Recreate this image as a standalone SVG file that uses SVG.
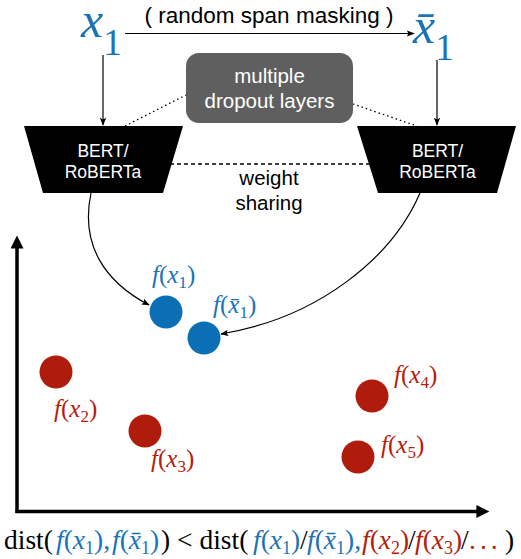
<svg xmlns="http://www.w3.org/2000/svg" width="521" height="559" viewBox="0 0 521 559">
<defs>
<style>
.sans{font-family:"Liberation Sans",Arial,sans-serif}
.serif{font-family:"Liberation Serif","DejaVu Serif","Times New Roman",serif}
.it{font-style:italic}
.blue{fill:#1a73b6}
.red{fill:#b3200f}
.blk{fill:#000}
.wt{fill:#fff}
.conn{fill:none;stroke:#000;stroke-width:1.2}
</style>
<marker id="ah" viewBox="0 0 10 10" refX="9" refY="5" markerWidth="8" markerHeight="8" orient="auto" markerUnits="userSpaceOnUse">
<path d="M0,1 L10,5 L0,9 L2,5 z" fill="#000"/>
</marker>
<marker id="axh" viewBox="0 0 10 10" refX="2" refY="5" markerWidth="14" markerHeight="13" orient="auto" markerUnits="userSpaceOnUse">
<path d="M0,0 L10,5 L0,10 z" fill="#000"/>
</marker>
</defs>
<rect width="521" height="559" fill="#fff"/>

<g id="connectors">
<line class="conn" x1="125" y1="33.5" x2="414" y2="33.5" marker-end="url(#ah)"/>
<line class="conn" x1="103" y1="55" x2="103" y2="125" marker-end="url(#ah)"/>
<line class="conn" x1="437" y1="60" x2="437" y2="125" marker-end="url(#ah)"/>
<line x1="125" y1="126" x2="186" y2="95" stroke="#000" stroke-width="1.3" stroke-dasharray="1.5,3"/>
<line x1="353" y1="104" x2="417" y2="126" stroke="#000" stroke-width="1.3" stroke-dasharray="1.5,3"/>
<line x1="170" y1="164" x2="370" y2="164" stroke="#000" stroke-width="1.5" stroke-dasharray="4,3"/>
<path class="conn" d="M91,193 C80,245 105,282 149,305" marker-end="url(#ah)"/>
<path class="conn" d="M420,193 C392,258 318,318 221,334" marker-end="url(#ah)"/>
<path d="M17,513 L17,246" stroke="#000" stroke-width="3.5" fill="none" marker-end="url(#axh)"/>
<path d="M15.5,511.5 L479,511.5" stroke="#000" stroke-width="3.5" fill="none" marker-end="url(#axh)"/>
</g>

<g id="label-masking">
<text class="sans blk" x="269" y="23" font-size="22.5" text-anchor="middle">( random span masking )</text>
</g>

<g id="x1">
<text class="serif blue" x="81" y="37" font-size="50"><tspan class="it">x</tspan><tspan font-size="37" dy="18">1</tspan></text>
</g>

<g id="x1bar">
<text class="serif blue" x="413" y="43" font-size="50"><tspan class="it">x̄</tspan><tspan font-size="37" dy="17">1</tspan></text>
</g>

<g id="dropout">
<rect x="186" y="53" width="167" height="70" rx="13" fill="#5f5f5f"/>
<text class="sans wt" x="269.5" y="83" font-size="20.5" text-anchor="middle">multiple</text>
<text class="sans wt" x="269.5" y="108" font-size="20.5" text-anchor="middle">dropout layers</text>
</g>

<g id="bert-left">
<polygon points="24,126 183,126 163,193 43,193" fill="#000"/>
<text class="sans wt" x="103" y="157" font-size="17.5" text-anchor="middle">BERT/</text>
<text class="sans wt" x="103" y="178" font-size="17.5" text-anchor="middle">RoBERTa</text>
</g>

<g id="bert-right">
<polygon points="357,126 516,126 497,193 378,193" fill="#000"/>
<text class="sans wt" x="437.5" y="157" font-size="17.5" text-anchor="middle">BERT/</text>
<text class="sans wt" x="437.5" y="178" font-size="17.5" text-anchor="middle">RoBERTa</text>
</g>

<g id="weight-sharing">
<text class="sans blk" x="269" y="185" font-size="20.5" text-anchor="middle">weight</text>
<text class="sans blk" x="269" y="210" font-size="20.5" text-anchor="middle">sharing</text>
</g>

<g id="dot-x1">
<circle cx="166" cy="312" r="16.5" fill="#0b6fb5"/>
<text class="serif blue" x="152" y="283" font-size="25"><tspan class="it">f</tspan>(<tspan class="it">x</tspan><tspan font-size="17" dy="5">1</tspan><tspan dy="-5">)</tspan></text>
</g>
<g id="dot-x1bar">
<circle cx="204" cy="338" r="16.5" fill="#0b6fb5"/>
<text class="serif blue" x="213" y="313" font-size="25"><tspan class="it">f</tspan>(<tspan class="it">x̄</tspan><tspan font-size="17" dy="5">1</tspan><tspan dy="-5">)</tspan></text>
</g>
<g id="dot-x2">
<circle cx="56" cy="372" r="16.5" fill="#b01c0c"/>
<text class="serif red" x="54" y="417" font-size="25"><tspan class="it">f</tspan>(<tspan class="it">x</tspan><tspan font-size="17" dy="5">2</tspan><tspan dy="-5">)</tspan></text>
</g>
<g id="dot-x3">
<circle cx="145" cy="431" r="16.5" fill="#b01c0c"/>
<text class="serif red" x="151" y="467" font-size="25"><tspan class="it">f</tspan>(<tspan class="it">x</tspan><tspan font-size="17" dy="5">3</tspan><tspan dy="-5">)</tspan></text>
</g>
<g id="dot-x4">
<circle cx="372" cy="396" r="16.5" fill="#b01c0c"/>
<text class="serif red" x="394" y="383" font-size="25"><tspan class="it">f</tspan>(<tspan class="it">x</tspan><tspan font-size="17" dy="5">4</tspan><tspan dy="-5">)</tspan></text>
</g>
<g id="dot-x5">
<circle cx="358" cy="457" r="16.5" fill="#b01c0c"/>
<text class="serif red" x="381" y="453" font-size="25"><tspan class="it">f</tspan>(<tspan class="it">x</tspan><tspan font-size="17" dy="5">5</tspan><tspan dy="-5">)</tspan></text>
</g>

<g id="formula">
<text class="serif" y="549" font-size="27.5"><tspan x="4" class="blk">dist(</tspan><tspan x="56" class="blue"><tspan class="it">f</tspan>(<tspan class="it">x</tspan><tspan font-size="18" dy="5">1</tspan><tspan dy="-5">),</tspan></tspan><tspan x="112" class="blue"><tspan class="it">f</tspan>(<tspan class="it">x̄</tspan><tspan font-size="18" dy="5">1</tspan><tspan dy="-5">)</tspan></tspan><tspan x="161" class="blk">) &lt; dist(</tspan><tspan x="253" class="blue"><tspan class="it">f</tspan>(<tspan class="it">x</tspan><tspan font-size="18" dy="5">1</tspan><tspan dy="-5">)</tspan></tspan><tspan x="300" class="blk">/</tspan><tspan x="307" class="blue"><tspan class="it">f</tspan>(<tspan class="it">x̄</tspan><tspan font-size="18" dy="5">1</tspan><tspan dy="-5">),</tspan></tspan><tspan x="362" class="red"><tspan class="it">f</tspan>(<tspan class="it">x</tspan><tspan font-size="18" dy="5">2</tspan><tspan dy="-5">)</tspan></tspan><tspan x="408" class="blk">/</tspan><tspan x="415" class="red"><tspan class="it">f</tspan>(<tspan class="it">x</tspan><tspan font-size="18" dy="5">3</tspan><tspan dy="-5">)</tspan></tspan><tspan x="461" class="blk">/</tspan><tspan x="469" class="red" letter-spacing="4">...</tspan><tspan x="505" class="blk">)</tspan></text>
</g>
</svg>
